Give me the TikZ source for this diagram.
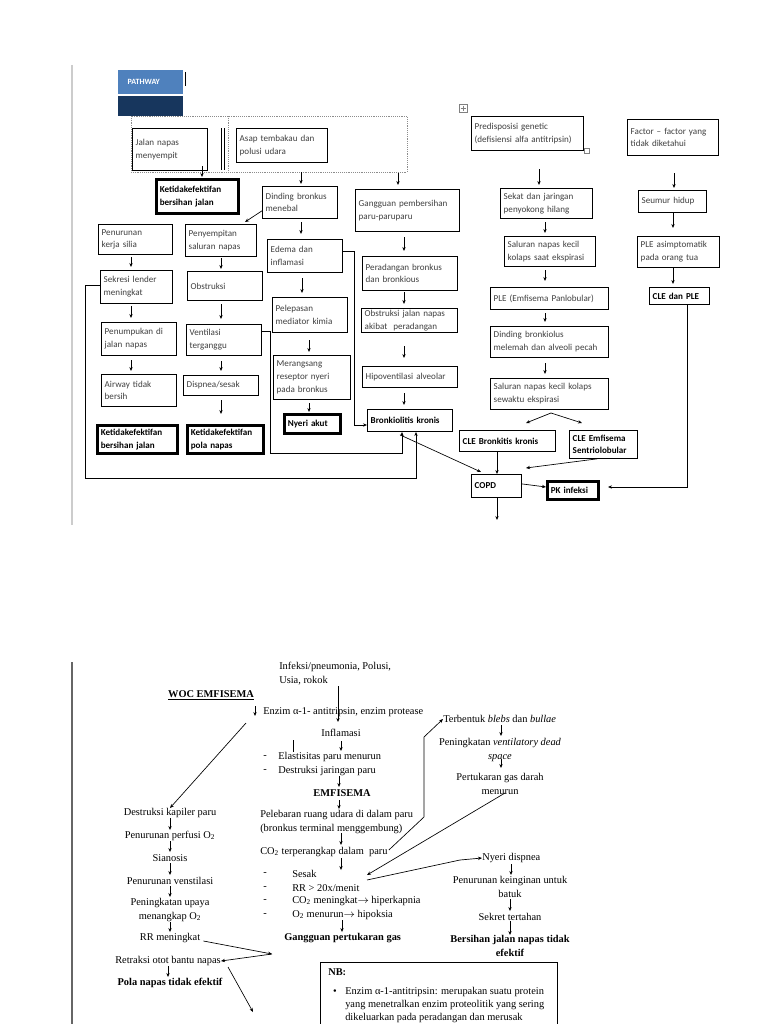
\documentclass[tikz,border=0pt]{standalone}
\usepackage{fontspec}
\setmainfont{Liberation Serif}
\newfontfamily\calfnt{Carlito}
\usetikzlibrary{arrows.meta}
\newcommand\bxn[7][box]{%
\pgfmathsetmacro\bw{(#5-#3)*0.75-5}\pgfmathsetmacro\bh{(#6-#4)*0.75}%
\node[#1, anchor=north west, text width=\bw pt, minimum height=\bh pt] (#2) at (#3,#4) {#7};}
\begin{document}
\begin{tikzpicture}[x=0.75pt,y=-0.75pt,
 box/.style={draw, line width=0.6pt, inner xsep=2.5pt, inner ysep=1pt, align=left, font=\calfnt\fontsize{6.8}{9.6}\selectfont, text=black!75},
 tbox/.style={box, line width=2.2pt, font=\calfnt\bfseries\fontsize{6.8}{9.6}\selectfont, text=black},
 bbox/.style={box, font=\calfnt\bfseries\fontsize{6.8}{9.6}\selectfont, text=black},
 arr/.style={-{Stealth[length=3pt,width=2.5pt]}, line width=0.5pt},
 ln/.style={line width=0.5pt},
 tt/.style={inner sep=0pt, font=\fontsize{7.8}{10.5}\selectfont, align=center},
 tl/.style={tt, anchor=west, align=left}]
\useasboundingbox (0,0) rectangle (768,1024);
\fill[white] (0,0) rectangle (768,1024);
% ---------- top pathway ----------
\draw[black!20, line width=1pt] (72,65) -- (72,525);
\node[fill={rgb,255:red,79;green,129;blue,189}, minimum width=48.75pt, minimum height=18pt, anchor=north west, inner sep=0pt] (pw) at (118,70) {};
\node[anchor=west, text=white, font=\calfnt\bfseries\fontsize{6}{7}\selectfont] at (123,82) {PATHWAY};
\node[fill={rgb,255:red,23;green,54;blue,93}, minimum width=48.75pt, minimum height=15pt, anchor=north west, inner sep=0pt] (pw2) at (118,96) {};
\draw[ln] (185,72) -- (185,86);
\draw[densely dotted, black!45] (131,116) rectangle (407,172) (228,116) -- (228,172);
\bxn{jalan}{132}{128}{207}{170}{Jalan napas\\menyempit}
\draw[ln] (221,128) -- (221,170) (224,128) -- (224,170);
\bxn{asap}{236}{128}{327}{162}{Asap tembakau dan\\polusi udara}
\bxn[tbox]{ket1}{155}{178}{237}{212}{Ketidakefektifan\\bersihan jalan}
\bxn{dind}{262}{186}{337}{218}{Dinding bronkus\\menebal}
\bxn{gang}{355}{189}{459}{231}{Gangguan pembersihan\\paru-paruparu}
\bxn{pen}{98}{224}{172}{254}{Penurunan\\kerja silia}
\bxn{peny}{185}{224}{256}{256}{Penyempitan\\saluran napas}
\bxn{edema}{267}{239}{342}{272}{Edema dan\\inflamasi}
\bxn{perad}{362}{256}{457}{290}{Peradangan bronkus\\dan bronkious}
\bxn{sekr}{100}{270}{172}{303}{Sekresi lender\\meningkat}
\bxn{obs}{187}{271}{262}{300}{Obstruksi\\[6pt]}
\bxn{pelep}{272}{297}{347}{332}{Pelepasan\\mediator kimia}
\bxn{obsj}{361}{308}{457}{332}{Obstruksi jalan napas\\akibat\ \ peradangan}
\bxn{penum}{101}{322}{176}{355}{Penumpukan di\\jalan napas}
\bxn{vent}{186}{324}{261}{355}{Ventilasi\\terganggu}
\bxn{meran}{273}{355}{350}{399}{Merangsang\\reseptor nyeri\\pada bronkus}
\bxn{hipo}{362}{366}{457}{387}{Hipoventilasi alveolar}
\bxn{airw}{101}{374}{176}{406}{Airway tidak\\bersih}
\bxn{disp}{183}{375}{258}{395}{Dispnea/sesak}
\bxn[tbox]{nyeri}{283}{413}{339}{432}{Nyeri akut}
\bxn[bbox]{bronk}{367}{409}{452}{431}{\centering Bronkiolitis kronis}
\bxn[tbox]{ket2}{96}{424}{176}{452}{Ketidakefektifan\\bersihan jalan}
\bxn[tbox]{ket3}{186}{424}{262}{452}{Ketidakefektifan\\pola napas}
\bxn{pred}{471}{116}{583}{150}{Predisposisi genetic\\(defisiensi alfa antitripsin)}
\draw[black!50, line width=0.4pt] (459,104) rectangle (467,112) (463,105.5)--(463,110.5) (460.5,108)--(465.5,108);
\draw[black!50, line width=0.4pt] (584,148) rectangle (589,153);
\bxn{fact}{627}{119}{718}{155}{Factor – factor yang\\tidak diketahui}
\bxn{sekat}{500}{188}{592}{218}{Sekat dan jaringan\\penyokong hilang}
\bxn{seum}{638}{190}{706}{212}{Seumur hidup}
\bxn{sal1}{504}{236}{595}{266}{Saluran napas kecil\\kolaps saat ekspirasi}
\bxn{pleas}{637}{236}{719}{267}{PLE asimptomatik\\pada orang tua}
\bxn{ple}{490}{287}{608}{309}{PLE (Emfisema Panlobular)}
\bxn[bbox]{cle}{649}{287}{709}{304}{CLE dan PLE}
\bxn{dindb}{490}{326}{608}{357}{Dinding bronkiolus\\melemah dan alveoli pecah}
\bxn{sal2}{490}{378}{608}{409}{Saluran napas kecil kolaps\\sewaktu ekspirasi}
\bxn[bbox]{cleb}{459}{430}{555}{451}{CLE Bronkitis kronis}
\bxn[bbox]{clee}{569}{430}{637}{458}{CLE Emfisema\\Sentriolobular}
\bxn[bbox]{copd}{471}{474}{521}{497}{\centering COPD}
\bxn[tbox]{pk}{546}{480}{597}{498}{PK infeksi}
% top arrows
\foreach \x/\a/\b in {202/166/177,301/172/184,398/173/185,301/222/234,131/257/267,221/258/269,
 302/278/293,404/237/251,404/292/304,131/306/318,221/304/319,309/340/352,404/346/358,
 131/360/371,221/361/371,309/403/412,221/400/414,404/393/405,
 539/169/185,674/173/188,545/222/233,673/213/228,545/270/281,673/267/284,545/313/322,545/363/374}
 \draw[arr] (\x,\a) -- (\x,\b);
\draw[arr] (dind.south west) ++(0,-8) -- (245,222);
\draw[arr] (edema.east) ++(0,-5) -| (354,425) -- (bronk.west |- 0,425);
\draw[arr] (vent.east) ++(0,-9) -| (270,453) -| (402,432);
\draw[arr] (sekr.west) ++(0,-2) -| (85,478) -| (416,432);
\draw[arr] (bronk.south) ++(-10,3) -- (481,472);
\draw[arr] (551,413) -- (526,423);
\draw[arr] (551,413) -- (582,423);
\draw[arr] (cleb.south -| 497,0) -- (copd.north -| 497,0);
\draw[arr] (clee.south) ++(-6,0) -- (526,468);
\draw[arr] (copd.east) ++(0,-2) -- (pk.west |- 0,487);
\draw[arr] (cle.south -| 687,0) -- (687,487) -- (608,487);
\draw[arr] (copd.south -| 497,0) -- (497,520);
% ---------- bottom WOC ----------
\draw[black!60, line width=1pt] (72,662) -- (72,1024);
\node[tl] (inf) at (279,667) {Infeksi/pneumonia, Polusi,};
\node[tl] (usia) at (279,681) {Usia, rokok};
\node[tt, font=\bfseries\fontsize{7.8}{10}\selectfont] (woc) at (211,695) {\underline{WOC EMFISEMA}};
\node[tl] (enz) at (263,712) {Enzim α-1- antitripsin, enzim protease};
\node[tt] (infl) at (341,733) {Inflamasi};
\node[tl] (el) at (278,757) {Elastisitas paru menurun};
\node[tl] (des) at (278,771) {Destruksi jaringan paru};
\node[tt] at (265,757) {-}; \node[tt] at (265,771) {-};
\node[tt, font=\bfseries\fontsize{7.8}{10}\selectfont] (emf) at (342,793) {EMFISEMA};
\node[tl] (pel) at (260,815) {Pelebaran ruang udara di dalam paru};
\node[tl] (pel2) at (260,829) {(bronkus terminal menggembung)};
\node[tl] (co2) at (260,852) {CO\textsubscript{2} terperangkap dalam\ \ paru};
\foreach \y/\t in {874/{Sesak},888/{RR > 20x/menit},901/{CO\textsubscript{2} meningkat$\rightarrow$ hiperkapnia},915/{O\textsubscript{2} menurun$\rightarrow$ hipoksia}}
 {\node[tt] at (265,\y) {-}; \node[tl] at (292,\y) {\t};}
\node[tl, font=\bfseries\fontsize{7.8}{10}\selectfont] (ggn) at (284,938) {Gangguan pertukaran gas};
\node[tt] (dk) at (170,813) {Destruksi kapiler paru};
\node[tt] (pp) at (170,836) {Penurunan perfusi O\textsubscript{2}};
\node[tt] (sia) at (170,858) {Sianosis};
\node[tt] (pv) at (170,881) {Penurunan venstilasi};
\node[tt] (pu) at (170,910) {Peningkatan upaya\\menangkap O\textsubscript{2}};
\node[tt] (rr) at (170,938) {RR meningkat};
\node[tt] (ret) at (168,961) {Retraksi otot bantu napas};
\node[tt, font=\bfseries\fontsize{7.8}{10}\selectfont] (pola) at (170,983) {Pola napas tidak efektif};
\node[tl] (terb) at (443,719) {Terbentuk \textit{blebs} dan \textit{bullae}};
\node[tt] (vds) at (500,750) {Peningkatan \textit{ventilatory dead}\\\textit{space}};
\node[tt] (ptg) at (500,784) {Pertukaran gas darah\\menurun};
\node[tl] (nd) at (482,858) {Nyeri dispnea};
\node[tt] (pk2) at (510,887) {Penurunan keinginan untuk\\batuk};
\node[tt] (sek) at (510,917) {Sekret tertahan};
\node[tt, font=\bfseries\fontsize{7.8}{10}\selectfont] (bj) at (510,946) {Bersihan jalan napas tidak\\efektif};
\draw[line width=0.6pt] (320,1030) -- (320,962) -- (557,962) -- (557,1030);
\node[tl, font=\bfseries\fontsize{7.8}{10}\selectfont] (nb) at (328,972) {NB:};
\node[tt] at (335,992) {\textbullet};
\node[tl] at (345,992) {Enzim α-1-antitripsin: merupakan suatu protein};
\node[tl] at (345,1005) {yang menetralkan enzim proteolitik yang sering};
\node[tl] at (345,1018) {dikeluarkan pada peradangan dan merusak};
% bottom arrows
\foreach \x/\a/\b in {338/686/722,255/706/716,341/741/751,339/776/787,339/800/809,341/833/845,341/858/870,342/920/932,
 170/818/830,170/841/852,170/863/875,170/886/897,170/922/932,168/966/977,
 501/725/736,501/759/768,511/864/875,510/899/911,510/921/935}
 \draw[arr] (\x,\a) -- (\x,\b);
\draw[ln] (293,740) -- (293,752);
\draw[arr] (246,723) -- (dk.north);
\draw[arr] (rr.east) ++(3,3) -- (272,954);
\draw[arr] (272,954) -- (ret.east);
\draw[arr] (228,967) -- (253,1012);
\draw[arr] (co2.east) ++(1,-2) -- (424,817) -- (424,737) -- (terb.west);
\draw[arr] (505,793) -- (367,875);
\draw[arr] (367,880) -- (460,860) -- (nd.west);
\end{tikzpicture}
\end{document}
